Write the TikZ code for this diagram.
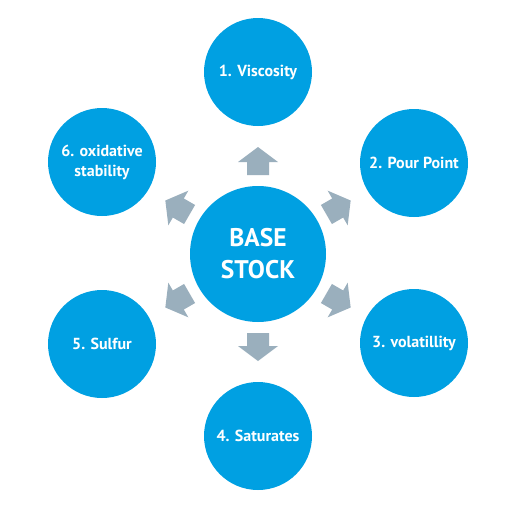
\documentclass[tikz,border=0pt]{standalone}
\usepackage{fontspec}
\setmainfont{PT Sans}
\definecolor{cblue}{RGB}{0,160,226}
\definecolor{agray}{RGB}{154,175,189}
\begin{document}
\begin{tikzpicture}[x=1pt,y=-1pt]
\tikzset{
  outer/.style={circle,fill=cblue,inner sep=0pt,minimum size=108pt,text=white,
    font=\bfseries\fontsize{16}{20}\selectfont,align=center},
  hub/.style={circle,fill=cblue,inner sep=0pt,minimum size=136pt,text=white,
    font=\bfseries\fontsize{25.5}{32}\selectfont,align=center},
  blockarrow/.style={fill=agray,draw=none}
}
\useasboundingbox[fill=white] (0,0) rectangle (511,515);
\node[hub] (c) at (258,254) {BASE\\STOCK};
\node[outer] (n1) at (258,72) {1. Viscosity};
\node[outer] (n2) at (414,163) {2. Pour Point};
\node[outer] (n3) at (414,343) {3. volatillity};
\node[outer] (n4) at (258,436) {4. Saturates};
\node[outer] (n5) at (102,344) {5. Sulfur};
\node[outer] (n6) at (102,162) {6. oxidative\\stability};
\foreach \a in {90,30,-30,-90,-150,150}{
  \begin{scope}[shift={(c.center)},rotate=\a]
    \fill[blockarrow] (79,-11) -- (92,-11) -- (92,-20) -- (107,0) -- (92,20) -- (92,11) -- (79,11) -- cycle;
  \end{scope}
}
\end{tikzpicture}
\end{document}
